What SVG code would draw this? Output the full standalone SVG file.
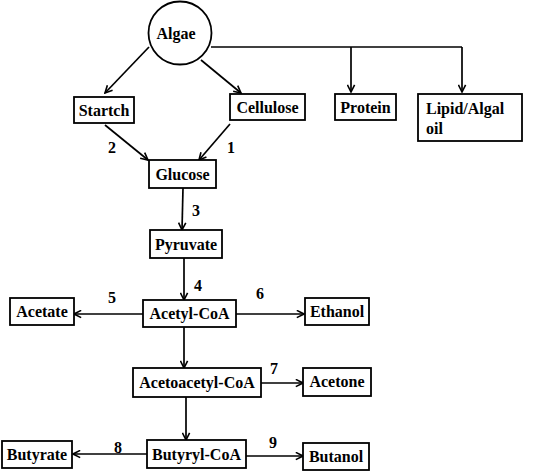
<svg xmlns="http://www.w3.org/2000/svg" width="545" height="472" viewBox="0 0 545 472">
<defs>
<marker id="arr" viewBox="0 0 10 10" refX="9" refY="5" markerWidth="9" markerHeight="9" markerUnits="userSpaceOnUse" orient="auto">
<path d="M1,1 L9,5 L1,9" fill="none" stroke="#000" stroke-width="1.8"/>
</marker>
<style>
.box{fill:#fff;stroke:#000;stroke-width:1.8}
.t{font-family:"Liberation Serif","Times New Roman",serif;font-weight:bold;font-size:16px;fill:#000}
.c{stroke:#000;stroke-width:1.7;fill:none}
.a{marker-end:url(#arr)}
</style>
</defs>
<rect width="545" height="472" fill="#fff"/>
<g id="connectors">
<path class="c" d="M211,47 H462"/>
<line class="c a" x1="351" y1="47" x2="351" y2="92"/>
<line class="c a" x1="462" y1="47" x2="462" y2="92"/>
<line class="c a" x1="149" y1="47" x2="105" y2="93"/>
<line class="c a" x1="201" y1="60" x2="241" y2="93"/>
<line class="c a" x1="105" y1="125" x2="148" y2="160"/>
<line class="c a" x1="230" y1="124" x2="199" y2="160"/>
<line class="c a" x1="183" y1="188" x2="182" y2="230"/>
<line class="c a" x1="184" y1="258" x2="184" y2="300"/>
<line class="c a" x1="143" y1="314" x2="74" y2="314"/>
<line class="c a" x1="236" y1="314" x2="304" y2="314"/>
<line class="c a" x1="184" y1="327" x2="184" y2="368"/>
<line class="c a" x1="261" y1="383" x2="303" y2="383"/>
<line class="c a" x1="186" y1="397" x2="186" y2="440"/>
<line class="c a" x1="147" y1="454" x2="73" y2="454"/>
<line class="c a" x1="246" y1="456" x2="303" y2="456"/>
<text class="t" x="112" y="153" text-anchor="middle">2</text>
<text class="t" x="231" y="153" text-anchor="middle">1</text>
<text class="t" x="196" y="216" text-anchor="middle">3</text>
<text class="t" x="198" y="291" text-anchor="middle">4</text>
<text class="t" x="112" y="303" text-anchor="middle">5</text>
<text class="t" x="260" y="299" text-anchor="middle">6</text>
<text class="t" x="274" y="374" text-anchor="middle">7</text>
<text class="t" x="118" y="453" text-anchor="middle">8</text>
<text class="t" x="273" y="448" text-anchor="middle">9</text>
</g>
<g id="algae"><circle cx="180" cy="33" r="31.5" fill="#fff" stroke="#000" stroke-width="1.8"/><text class="t" x="176" y="39" text-anchor="middle">Algae</text></g>
<g id="startch"><rect class="box" x="74" y="97" width="60" height="26"/><text class="t" x="104" y="116" text-anchor="middle">Startch</text></g>
<g id="cellulose"><rect class="box" x="230" y="94" width="75" height="26"/><text class="t" x="267.5" y="113" text-anchor="middle">Cellulose</text></g>
<g id="protein"><rect class="box" x="335" y="94" width="61" height="26"/><text class="t" x="365.5" y="113" text-anchor="middle">Protein</text></g>
<g id="lipid"><rect class="box" x="418" y="94" width="104" height="47"/><text class="t" x="426" y="114">Lipid/Algal</text><text class="t" x="426" y="134">oil</text></g>
<g id="glucose"><rect class="box" x="149" y="160" width="67" height="28"/><text class="t" x="182.5" y="180" text-anchor="middle">Glucose</text></g>
<g id="pyruvate"><rect class="box" x="150" y="230" width="72" height="28"/><text class="t" x="186" y="250" text-anchor="middle">Pyruvate</text></g>
<g id="acetate"><rect class="box" x="10" y="298" width="64" height="27"/><text class="t" x="42" y="317" text-anchor="middle">Acetate</text></g>
<g id="acetylcoa"><rect class="box" x="143" y="300" width="93" height="27"/><text class="t" x="189.5" y="319" text-anchor="middle">Acetyl-CoA</text></g>
<g id="ethanol"><rect class="box" x="305" y="298" width="64" height="27"/><text class="t" x="337" y="317" text-anchor="middle">Ethanol</text></g>
<g id="acetoacetylcoa"><rect class="box" x="133" y="368" width="128" height="29"/><text class="t" x="197" y="388" text-anchor="middle">Acetoacetyl-CoA</text></g>
<g id="acetone"><rect class="box" x="303" y="368" width="68" height="28"/><text class="t" x="337" y="387" text-anchor="middle">Acetone</text></g>
<g id="butyrylcoa"><rect class="box" x="147" y="440" width="99" height="28"/><text class="t" x="196.5" y="460" text-anchor="middle">Butyryl-CoA</text></g>
<g id="butyrate"><rect class="box" x="2" y="441" width="70" height="27"/><text class="t" x="37" y="460" text-anchor="middle">Butyrate</text></g>
<g id="butanol"><rect class="box" x="303" y="443" width="66" height="27"/><text class="t" x="336" y="462" text-anchor="middle">Butanol</text></g>
</svg>
